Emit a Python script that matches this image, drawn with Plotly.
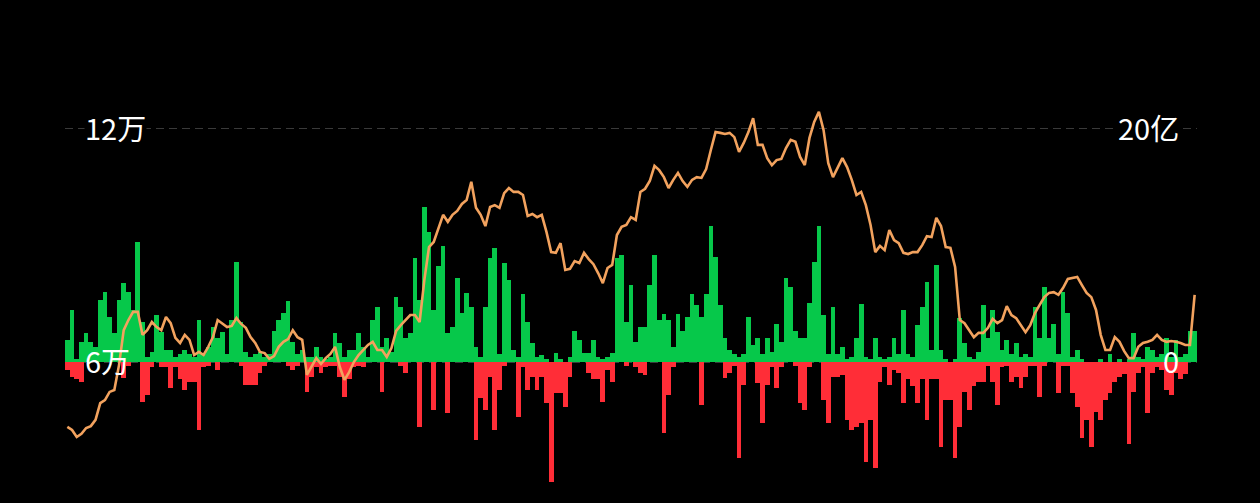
import plotly.graph_objects as go

# minute index 0..240 (one trading day)
minutes = list(range(241))

# inflow per minute (亿)
inflow = [
 1.9,4.5,0.3,1.7,2.5,1.7,1.3,5.3,6.0,3.9, 2.5,5.3,6.8,6.0,4.5,10.3,3.4,0.4,0.9,4.0,
 2.6,1.0,1.0,0.4,0.7,1.0,0.7,0.4,3.6,0.7, 1.3,3.0,2.1,2.6,0.7,3.6,8.6,3.4,0.9,0.4,
 0.7,0.9,0.4,0.7,2.7,3.6,4.2,5.2,1.7,0.7, 1.0,0.4,0.4,1.3,0.4,0.3,0.4,2.5,1.6,0.4,
 1.0,1.0,2.5,1.3,0.4,3.6,4.7,1.3,2.1,0.9, 5.6,4.7,2.1,2.5,8.9,5.3,13.3,11.2,4.5,8.2,
 10.0,2.5,3.0,7.2,4.2,5.9,4.7,1.3,0.4,4.7, 8.9,9.8,0.7,8.5,7.0,1.0,0.4,5.8,3.4,1.6,
 0.4,0.6,0.3,0.0,0.8,0.3,0.0,0.4,2.7,1.9, 0.8,0.8,1.9,0.4,0.3,0.4,0.8,8.9,9.2,3.4,
 6.6,1.7,3.0,3.0,6.6,9.2,3.6,4.1,3.6,1.3, 4.1,2.7,3.9,5.8,4.9,3.9,5.8,11.7,9.0,4.9,
 2.1,1.0,0.7,0.4,0.7,3.9,1.5,2.1,0.7,2.1, 0.9,3.3,1.7,7.2,6.4,2.7,2.1,2.1,5.1,8.6,
 11.7,4.0,0.7,4.7,0.7,1.3,0.3,0.4,2.1,5.0, 0.4,0.3,2.1,0.4,0.3,0.4,2.1,0.7,4.5,0.7,
 0.4,3.2,4.7,6.9,1.0,8.3,1.0,0.3,0.0,0.3, 3.8,1.6,0.4,0.3,0.9,4.9,2.1,4.5,2.6,1.0,
 1.9,0.7,1.6,0.4,0.7,0.4,4.7,2.1,6.4,2.1, 3.3,0.7,6.0,4.2,0.4,1.0,0.3,0.0,0.0,0.0,
 0.3,0.0,0.7,0.0,0.3,0.0,0.3,2.5,0.4,0.3, 1.3,1.0,0.4,0.7,2.1,0.4,1.9,0.4,0.7,2.7,
 2.7,
]

# outflow per minute (亿, shown below zero)
outflow = [
 0.7,1.3,1.5,1.7,0.0,0.0,0.0,0.0,0.0,0.0, 0.0,0.0,1.4,0.3,0.0,0.0,3.4,2.8,0.4,0.0,
 0.4,0.4,2.2,0.4,1.5,2.4,1.7,1.7,5.8,0.4, 0.3,0.0,0.7,0.0,0.0,0.0,0.0,0.3,2.0,2.0,
 2.0,0.9,0.3,0.0,0.0,0.0,0.0,0.3,0.7,0.3, 0.0,2.6,1.3,0.4,0.9,0.4,0.3,0.3,1.3,3.0,
 1.5,0.4,0.3,0.4,0.0,0.0,0.0,2.6,0.0,0.0, 0.0,0.3,0.9,0.0,0.0,5.6,0.0,0.0,4.1,0.0,
 0.0,4.4,0.0,0.0,0.0,0.0,0.0,6.7,3.1,4.1, 1.3,5.8,2.4,0.3,0.0,0.0,4.7,0.4,2.4,1.3,
 2.4,1.3,3.5,10.3,2.7,2.7,3.9,1.3,0.0,0.0, 0.0,0.9,1.5,1.5,3.4,0.7,1.7,0.0,0.0,0.3,
 0.0,0.4,0.9,1.1,0.0,0.0,0.0,6.1,2.8,0.4, 0.0,0.0,0.0,0.0,0.0,3.7,0.0,0.0,0.0,0.0,
 1.4,0.9,0.3,8.2,2.0,0.0,0.0,1.8,5.2,2.0, 0.4,2.2,0.4,0.0,0.0,0.3,3.5,4.1,0.4,0.0,
 0.0,3.3,5.2,1.3,1.3,1.1,5.0,5.8,5.6,5.2, 8.6,5.0,9.1,1.7,0.4,2.0,0.7,0.9,3.5,1.5,
 2.1,3.5,1.5,5.0,1.5,1.5,7.3,3.3,3.3,8.2, 5.6,2.6,4.1,2.1,1.7,1.7,0.3,1.7,3.7,0.4,
 0.3,1.7,1.3,2.2,1.3,0.3,0.3,3.0,0.3,0.0, 0.0,2.7,0.3,0.3,2.7,3.9,6.5,5.0,7.3,4.3,
 5.0,3.3,2.7,1.7,1.3,1.0,7.0,2.6,0.9,0.4, 4.4,0.9,0.4,0.7,2.4,2.8,0.9,1.5,1.0,0.0,
 0.0,
]

# cumulative line (万)
line_val = [
 4.33,4.25,4.07,4.15,4.30,4.35,4.51,4.94,5.02,5.23, 5.28,5.92,6.82,7.08,7.29,7.29,6.70,6.82,7.03,6.90,
 6.82,7.16,7.00,6.62,6.49,6.70,6.57,6.18,6.26,6.18, 6.39,6.64,7.08,7.00,6.90,6.93,7.13,6.98,6.88,6.64,
 6.49,6.26,6.23,6.08,6.15,6.39,6.52,6.59,6.82,6.64, 6.57,5.67,5.90,6.10,5.95,6.10,6.21,6.39,5.87,5.54,
 5.74,6.00,6.18,6.31,6.44,6.52,6.31,6.31,6.13,6.36, 6.80,6.95,7.08,7.21,7.21,7.03,8.11,8.96,9.09,9.45,
 9.79,9.61,9.79,9.89,10.07,10.17,10.64,9.97,9.79,9.50, 9.99,10.04,9.97,10.35,10.48,10.38,10.38,10.30,9.76,9.81,
 9.73,9.79,9.35,8.83,8.81,9.06,8.37,8.40,8.60,8.55, 8.81,8.65,8.52,8.29,8.03,8.42,8.50,9.27,9.48,9.53,
 9.73,9.66,10.38,10.46,10.66,11.05,10.94,10.76,10.48,10.69, 10.87,10.66,10.51,10.69,10.76,10.74,10.97,11.46,11.92,11.90,
 11.87,11.90,11.79,11.41,11.64,11.92,12.28,11.59,11.59,11.25, 11.07,11.20,11.23,11.51,11.72,11.67,11.28,11.07,11.77,12.18,
 12.44,11.97,11.12,10.76,11.02,11.25,11.02,10.69,10.30,10.38, 10.04,9.53,8.83,8.99,8.88,9.40,9.14,9.06,8.81,8.78,
 8.83,8.83,9.01,9.24,9.22,9.71,9.50,8.96,8.94,8.45, 7.08,7.00,6.82,6.64,6.75,6.75,6.88,7.11,7.00,7.08,
 7.44,7.21,7.13,6.95,6.77,6.95,7.26,7.47,7.67,7.78, 7.80,7.73,7.91,8.14,8.16,8.19,7.98,7.78,7.67,7.34,
 6.70,6.31,6.31,6.64,6.52,6.28,6.10,6.10,6.39,6.49, 6.52,6.57,6.70,6.57,6.52,6.54,6.52,6.49,6.44,6.44,
 7.73,
]

# axis labels
left_ticks = [6, 12]          # 万
left_text = ["6万", "12万"]
right_ticks = [0, 20]         # 亿
right_text = ["0", "20亿"]

GREEN = "#06c84a"
RED = "#ff2d37"
ORANGE = "#f2a25e"
GRID = "#3a3a3a"

fig = go.Figure()
fig.add_trace(go.Bar(x=minutes, y=inflow, marker=dict(color=GREEN, line=dict(width=0)),
                     width=1.0, yaxis="y", hoverinfo="skip"))
fig.add_trace(go.Bar(x=minutes, y=[-v for v in outflow], marker=dict(color=RED, line=dict(width=0)),
                     width=1.0, yaxis="y", hoverinfo="skip"))
fig.add_trace(go.Scatter(x=minutes, y=line_val, mode="lines",
                         line=dict(color=ORANGE, width=2.6), yaxis="y2", hoverinfo="skip"))

# axis ranges: 0亿 <-> 6万 at the same height, 20亿 <-> 12万 at the same height
bar_range = [-12.10, 31.07]
line_range = [6 + bar_range[0] * 0.3, 6 + bar_range[1] * 0.3]

font = dict(family="Noto Sans CJK SC, Noto Sans, sans-serif", size=29, color="white")

annotations = []
for v, t in zip(left_ticks, left_text):
    annotations.append(dict(xref="paper", yref="y2", x=0.017, y=v, text=t, showarrow=False,
                            xanchor="left", yanchor="middle", yshift=2, font=font,
                            bgcolor="black" if v != 6 else None, borderpad=0))
for v, t in zip(right_ticks, right_text):
    annotations.append(dict(xref="paper", yref="y", x=0.985, y=v, text=t, showarrow=False,
                            xanchor="right", yanchor="middle", yshift=2, font=font,
                            bgcolor="black" if v != 0 else None, borderpad=0))

fig.update_layout(
    width=1260, height=503,
    paper_bgcolor="black", plot_bgcolor="black",
    margin=dict(l=65, r=63, t=0, b=0),
    barmode="overlay", bargap=0,
    showlegend=False,
    hovermode=False,
    xaxis=dict(range=[-0.5, 240.5], visible=False, fixedrange=True),
    yaxis=dict(range=bar_range, tickvals=right_ticks, showticklabels=False,
               showgrid=True, gridcolor=GRID, griddash="8px,5px", gridwidth=1,
               zeroline=False, showline=False, fixedrange=True),
    yaxis2=dict(range=line_range, overlaying="y", side="left", visible=False,
                showgrid=False, zeroline=False, fixedrange=True),
    annotations=annotations,
)

fig.write_html("out.html", config={"displayModeBar": False, "staticPlot": True},
               post_script="document.body.style.margin='0';document.body.style.background='black';")
